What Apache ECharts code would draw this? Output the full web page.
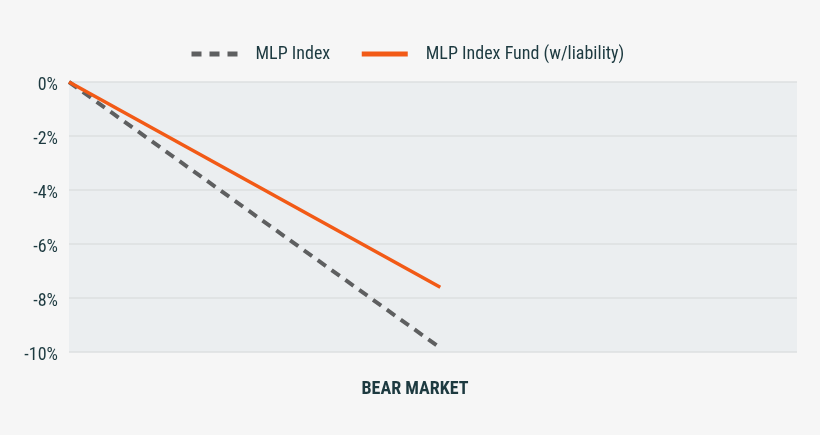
<!DOCTYPE html>
<html><head><meta charset="utf-8">
<script src="https://cdn.jsdelivr.net/npm/echarts@6/dist/echarts.min.js"></script>
<style>html,body{margin:0;padding:0;background:#f6f6f6;}#c{width:820px;height:435px;}</style>
</head><body><div id="c"></div>
<script>
const categoryLabel = 'BEAR MARKET';
const xPoints = [0, 51];
const mlpIndex = [0, -9.85];
const mlpFund = [0, -7.6];
const yTicks = [0, -2, -4, -6, -8, -10];

const chart = echarts.init(document.getElementById('c'));
const txt = '#1d3a40';
const font = "'Liberation Sans Narrow', 'Roboto Condensed', Roboto, sans-serif";
chart.setOption({
  backgroundColor: '#f6f6f6',
  animation: false,
  legend: {
    top: 40, left: 184,
    itemWidth: 46, itemHeight: 14, itemGap: 29,
    itemStyle: { opacity: 0 },
    lineStyle: { width: 5 },
    textStyle: { fontFamily: font, fontSize: 18, color: txt, padding: [0,0,0,13] },
    data: [
      { name: 'MLP Index', lineStyle: { type: [10, 8], width: 5 } },
      { name: 'MLP Index Fund (w/liability)', lineStyle: { width: 5 } }
    ]
  },
  grid: { left: 69, right: 23, top: 82, bottom: 83, show: true, backgroundColor: '#ebeef0', borderWidth: 0 },
  xAxis: {
    type: 'value', min: 0, max: 100,
    axisLine: { show: false }, axisTick: { show: false }, axisLabel: { show: false }, splitLine: { show: false },
    name: categoryLabel, nameLocation: 'middle', nameGap: 28,
    nameTextStyle: { fontFamily: font, fontWeight: 'bold', fontSize: 18, color: txt, padding: [0, 36, 0, 0] }
  },
  yAxis: {
    type: 'value', min: -10, max: 0, interval: 2,
    axisLine: { show: false }, axisTick: { show: false },
    axisLabel: { formatter: v => yTicks.includes(v) ? v + '%' : '', fontFamily: font, fontSize: 18, color: txt, margin: 11, verticalAlign: 'top', lineHeight: 6 },
    splitLine: { lineStyle: { color: '#dcdfe0', width: 1.5 } }
  },
  series: [
    { name: 'MLP Index', type: 'line', symbol: 'none',
      data: xPoints.map((x, i) => [x, mlpIndex[i]]),
      lineStyle: { color: '#5e5f60', width: 4, type: [10, 7] }, itemStyle: { color: '#5e5f60' } },
    { name: 'MLP Index Fund (w/liability)', type: 'line', symbol: 'none',
      data: xPoints.map((x, i) => [x, mlpFund[i]]),
      lineStyle: { color: '#f25a16', width: 3.5 }, itemStyle: { color: '#f25a16' } }
  ]
});
</script></body></html>
